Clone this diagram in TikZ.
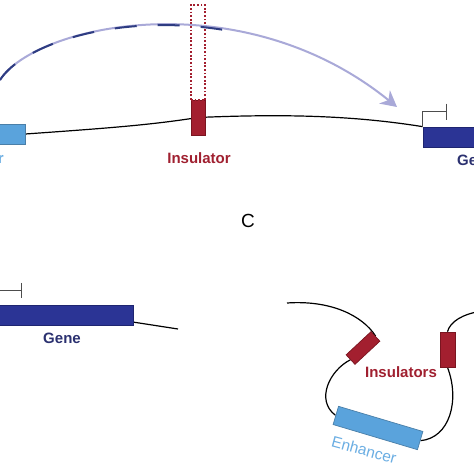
\documentclass[tikz,border=0pt]{standalone}
\usepackage{fontspec}
\setmainfont{Liberation Sans}
\usetikzlibrary{arrows.meta}
\pgfdeclarelayer{bg}
\pgfsetlayers{bg,main}
\definecolor{enhblue}{HTML}{5AA3DC}
\definecolor{enhborder}{HTML}{4A7FA8}
\definecolor{insred}{HTML}{A31F2F}
\definecolor{insborder}{HTML}{7A1520}
\definecolor{geneblue}{HTML}{2B3495}
\definecolor{geneborder}{HTML}{1E2570}
\definecolor{arrowlav}{HTML}{A9A9D8}
\definecolor{dashblue}{HTML}{2E3C82}
\definecolor{promgrey}{HTML}{4D4D4D}
\definecolor{genetext}{HTML}{2B3170}
\definecolor{instext}{HTML}{A02030}
\definecolor{enhtext}{HTML}{6BAEE3}
\begin{document}
\begin{tikzpicture}[x=1pt,y=-1pt,
  enhbox/.style={draw=enhborder,fill=enhblue,line width=0.7pt,inner sep=0pt,rectangle},
  insbox/.style={draw=insborder,fill=insred,line width=0.7pt,inner sep=0pt,rectangle},
  genebox/.style={draw=geneborder,fill=geneblue,line width=0.7pt,inner sep=0pt,rectangle},
  dna/.style={draw=black,line width=1.2pt},
  prom/.style={draw=promgrey,line width=1.1pt},
  lbl/.style={font=\fontsize{15}{15}\selectfont\bfseries,inner sep=0pt},
]
\useasboundingbox (0,0) rectangle (474,474);
\begin{pgfonlayer}{bg}
\fill[white] (0,0) rectangle (474,474);
\end{pgfonlayer}

% ---------- top panel ----------
\node[enhbox,minimum width=50pt,minimum height=20pt] (enh1) at (0,134) {};
\node[insbox,minimum width=14pt,minimum height=35pt] (ins1) at (198,117.5) {};
\node[draw=insred,line width=1.2pt,dash pattern=on 1.8pt off 1.8pt,minimum width=14pt,minimum height=95pt,inner sep=0pt] (ghost) at (198,52.5) {};
\node[genebox,minimum width=74pt,minimum height=20pt] (gene1) at (460,137) {};

\begin{pgfonlayer}{bg}
\draw[dna] (enh1.east) .. controls (110,128) and (150,125) .. (ins1.center)
           .. controls (280,114) and (350,115) .. (gene1.north west);
\end{pgfonlayer}

\draw[prom] (gene1.north west) -- ++(0,-15) -- ++(24,0) coordinate (pb1);
\draw[prom] ([yshift=8pt]pb1) -- ([yshift=-8pt]pb1);

\coordinate (arcstart) at (0,80);
\coordinate (arcend) at (397,107);
\draw[arrowlav,line width=2pt,-{Stealth[length=16pt,width=17pt,inset=5pt]}]
  (arcstart) .. controls (35,25) and (240,-20) .. (arcend);
\begin{scope}
\clip (-10,-10) rectangle (222,120);
\draw[dashblue,line width=2pt,dash pattern=on 22pt off 21pt]
  (arcstart) .. controls (35,25) and (240,-20) .. (arcend);
\end{scope}

\node[lbl,text=enhtext,anchor=east] (enhlbl1) at (4,158) {Enhancer};
\node[lbl,text=instext] (inslbl1) at (199,158) {Insulator};
\node[lbl,text=genetext,anchor=west] (genelbl1) at (457,160) {Gene};

% ---------- C label ----------
\node[font=\fontsize{19}{19}\selectfont,inner sep=0pt] (C) at (248,221) {C};

% ---------- bottom left ----------
\node[genebox,minimum width=166pt,minimum height=19.5pt] (gene2) at (50,315.5) {};
\draw[prom] (gene2.north west) -- ++(0,-15) -- ++(55,0) coordinate (pb2);
\draw[prom] ([yshift=7.5pt]pb2) -- ([yshift=-7.5pt]pb2);
\coordinate (tail2) at (178,329);
\begin{pgfonlayer}{bg}
\draw[dna] ([yshift=3.5pt]gene2.south east) -- (tail2);
\end{pgfonlayer}
\node[lbl,text=genetext] (genelbl2) at (62,338) {Gene};

% ---------- bottom right ----------
\node[insbox,minimum width=13pt,minimum height=34pt,rotate=-47] (ins2) at (363,348) {};
\node[insbox,minimum width=15pt,minimum height=35pt] (ins3) at (447.5,349.5) {};
\node[enhbox,minimum width=88pt,minimum height=19pt,rotate=-16.6] (enh2) at (378,428) {};
\coordinate (loopstart) at (287,303);
\coordinate (loopend) at (482,311);
\begin{pgfonlayer}{bg}
\draw[dna] (loopstart) .. controls (330,300) and (362,315) .. (ins2.north);
\draw[dna] (ins2.south) .. controls (330,370) and (315,400) .. (enh2.west);
\draw[dna] (enh2.east) .. controls (450,438) and (460,400) .. (ins3.south);
\draw[dna] (ins3.north) .. controls (450,322) and (462,314) .. (loopend);
\end{pgfonlayer}
\node[lbl,text=instext] (inslbl2) at (401,372) {Insulators};
\node[font=\fontsize{15.5}{15.5}\selectfont,text=enhtext,inner sep=0pt,rotate=-15] (enhlbl2) at (364,450) {Enhancer};
\end{tikzpicture}
\end{document}
